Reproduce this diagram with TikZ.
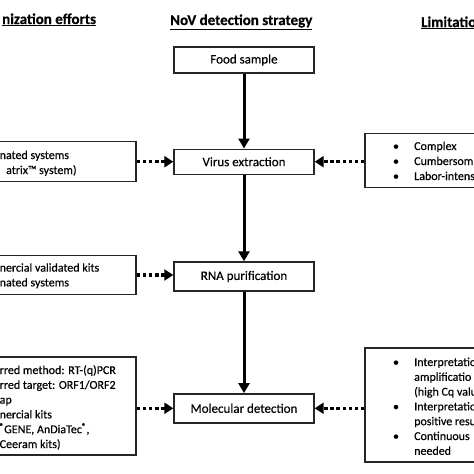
\documentclass[tikz,border=0pt]{standalone}
\usepackage{fontspec}
\setmainfont{Carlito}[FakeBold=0.35]
\usetikzlibrary{arrows.meta}
\begin{document}
\begin{tikzpicture}[x=1pt,y=-1pt,
  box/.style={draw=black!85, line width=1.4pt, inner sep=0pt},
  mainbox/.style={box, minimum width=140pt, font=\fontsize{13}{15}\selectfont},
  txt/.style={font=\fontsize{12}{14.8}\selectfont, inner sep=0pt, anchor=base west},
  bul/.style={font=\fontsize{12}{14.8}\selectfont, inner sep=0pt, anchor=base},
  head/.style={font=\fontsize{15}{18}\selectfont\bfseries, inner sep=0pt, anchor=base west},
  flow/.style={line width=3pt, -{Triangle[width=11pt,length=10pt]}},
  dotarrow/.style={line width=3.5pt, dash pattern=on 3.5pt off 2.6pt, -{Triangle[width=11pt,length=9pt]}}
]
\useasboundingbox (0,0) rectangle (474,474);
\clip (0,0) rectangle (474,474);

% headers
\node[head] (h1) at (2,24) {\underline{nization efforts}};
\node[head] (h2) at (170,25) {\underline{NoV detection strategy}};
\node[head] (h3) at (421,27) {\underline{Limitatio}};

% central boxes
\node[mainbox, minimum height=26pt] (food) at (244,60) {Food sample};
\node[mainbox, minimum height=25pt] (ve) at (244,161.7) {Virus extraction};
\node[mainbox, minimum height=29pt] (rna) at (244,276.5) {RNA purification};
\node[mainbox, minimum height=29pt] (mol) at (244,408.3) {Molecular detection};

\draw[flow] (food.south) -- (ve.north);
\draw[flow] (ve.south) -- (rna.north);
\draw[flow] (rna.south) -- (mol.north);

% left boxes
\node[box, minimum width=216pt, minimum height=40pt] (l1) at (28,161.7) {};
\node[box, minimum width=216pt, minimum height=38.6pt] (l2) at (28,275) {};
\node[box, minimum width=216pt, minimum height=98pt] (l3) at (28,406) {};

\node[txt] (l1a) at (-0.5,159) {nated systems};
\node[txt] (l1b) at (6,174) {atrix™ system)};
\node[txt] (l2a) at (-0.5,271.6) {nercial validated kits};
\node[txt] (l2b) at (-0.5,286.4) {nated systems};
\node[txt] (l3t1) at (-0.5,374) {rred method: RT-(q)PCR};
\node[txt] (l3t2) at (-0.5,388.8) {rred target: ORF1/ORF2};
\node[txt] (l3t3) at (-0.5,403.6) {ap};
\node[txt] (l3t4) at (-0.5,418.4) {nercial kits};
\node[txt] (l3t5) at (-0.5,433.2) {\textsuperscript{®}GENE, AnDiaTec\textsuperscript{®},};
\node[txt] (l3t6) at (-0.5,448) {Ceeram kits)};

% right boxes
\node[box, minimum width=200pt, minimum height=54pt] (r1) at (465,160.3) {};
\node[box, minimum width=200pt, minimum height=114pt] (r2) at (465,405) {};

\node[bul] (r1b1) at (396,150) {•};
\node[bul] (r1b2) at (396,165) {•};
\node[bul] (r1b3) at (396,180) {•};
\node[txt] (r1t1) at (414,150) {Complex};
\node[txt] (r1t2) at (414,165) {Cumbersom};
\node[txt] (r1t3) at (414,180) {Labor-intens};

\node[txt] (r2t1) at (414,366) {Interpretatio};
\node[txt] (r2t2) at (414,380.8) {amplificatio};
\node[txt] (r2t3) at (414,395.6) {(high Cq valu};
\node[txt] (r2t4) at (414,410.4) {Interpretatio};
\node[txt] (r2t5) at (414,425.2) {positive resu};
\node[txt] (r2t6) at (414,440) {Continuous};
\node[txt] (r2t7) at (414,454.8) {needed};
\node[bul] (r2b1) at (396,366) {•};
\node[bul] (r2b4) at (396,410.4) {•};
\node[bul] (r2b6) at (396,440) {•};

% dotted connectors
\draw[dotarrow] (l1.east) -- (l1.east -| ve.west);
\draw[dotarrow] (l2.east) -- (l2.east -| rna.west);
\draw[dotarrow] (l3.east |- mol.west) -- (mol.west);
\draw[dotarrow] (r1.west |- ve.east) -- (ve.east);
\draw[dotarrow] (r2.west |- mol.east) -- (mol.east);
\end{tikzpicture}
\end{document}
